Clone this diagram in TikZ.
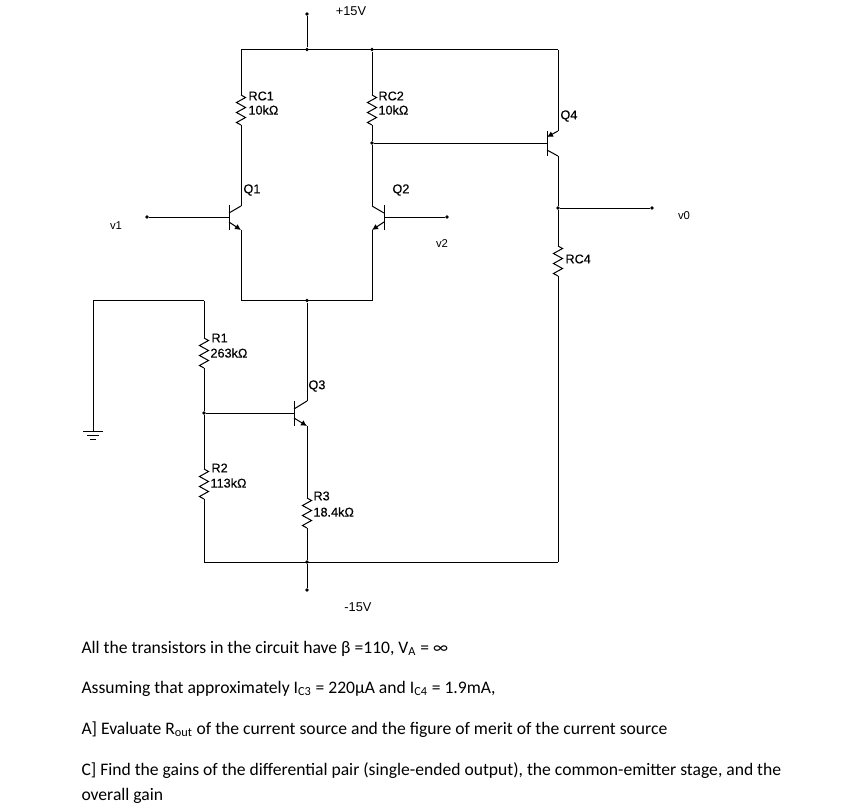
\documentclass[tikz,border=0pt]{standalone}
\usepackage{fontspec}
\setmainfont{Carlito}
\newfontfamily\labelfont[FakeBold=0.3]{Liberation Sans}
\newfontfamily\voltfont{Liberation Sans}
\usetikzlibrary{decorations.pathmorphing,arrows.meta}
\tikzset{
	dot/.style = {circle, fill = black, inner sep = 0, minimum size = 2.8pt},
	res/.style = {decorate, decoration = {zigzag, segment length = 7.5pt, amplitude = 3.4pt}},
	lbl/.style = {anchor = west, inner sep = 0, font = \labelfont\fontsize{9.5}{11}\selectfont},
	volt/.style = {anchor = center, inner sep = 0, font = \voltfont\fontsize{9.6}{11}\selectfont},
	small/.style = {anchor = center, inner sep = 0, font = \voltfont\fontsize{8.5}{10}\selectfont},
	txt/.style = {anchor = base west, inner sep = 0, align = left, font = \fontsize{13.2}{18.75}\selectfont},
	emit/.style = {-{Latex[length = 4.5pt, width = 4.5pt]}}
}
\begin{document}
\begin{tikzpicture}[x = .75pt, y = -.75pt, line width = .75pt]
	\useasboundingbox (0,0) rectangle (865,808);
	
	% supply dots
	\node [dot] (vcc) at (307, 14) {};
	\node [dot] (railm) at (307, 49.5) {};
	\node [dot] (railr) at (372, 49.5) {};
	\node [dot] (nq2) at (372, 143) {};
	\node [dot] (nv1) at (147, 217) {};
	\node [dot] (nv2) at (447, 217) {};
	\node [dot] (nq4) at (558, 208) {};
	\node [dot] (nv0) at (652, 208) {};
	\node [dot] (tail) at (307, 300.5) {};
	\node [dot] (nb3) at (204, 413) {};
	\node [dot] (railb) at (307, 562) {};
	\node [dot] (vee) at (307, 590) {};
	
	% corners and ends
	\coordinate (railtl) at (241, 49.5);
	\coordinate (railtr) at (558, 49.5);
	\coordinate (tailaa) at (241, 300.5);
	\coordinate (tailbb) at (372, 300.5);
	\coordinate (gndtop) at (93, 300.5);
	\coordinate (r1top) at (204, 300.5);
	\coordinate (gnd) at (93, 431);
	\coordinate (railbl) at (204, 562);
	\coordinate (railbr) at (558, 562);
	
	% resistors
	\coordinate (rc1a) at (241, 95);
	\coordinate (rc1b) at (241, 125);
	\coordinate (rc2a) at (372, 95);
	\coordinate (rc2b) at (372, 125);
	\coordinate (rc4a) at (558, 246);
	\coordinate (rc4b) at (558, 276);
	\coordinate (r1a) at (204, 338);
	\coordinate (r1b) at (204, 368);
	\coordinate (r2a) at (204, 469);
	\coordinate (r2b) at (204, 499);
	\coordinate (r3a) at (307, 498);
	\coordinate (r3b) at (307, 528);
	\draw [res] (rc1a) -- (rc1b);
	\draw [res] (rc2a) -- (rc2b);
	\draw [res] (rc4a) -- (rc4b);
	\draw [res] (r1a) -- (r1b);
	\draw [res] (r2a) -- (r2b);
	\draw [res] (r3a) -- (r3b);
	
	% Q1
	\coordinate (q1b) at (229, 217);
	\coordinate (q1t) at (229, 205);
	\coordinate (q1u) at (229, 230);
	\coordinate (q1cc) at (229, 213);
	\coordinate (q1c) at (241, 206);
	\coordinate (q1ee) at (229, 222);
	\coordinate (q1e) at (241, 230);
	\draw (q1t) -- (q1u);
	\draw (nv1) -- (q1b);
	\draw (q1cc) -- (q1c);
	\draw [emit] (q1ee) -- (q1e);
	
	% Q2
	\coordinate (q2b) at (384, 217);
	\coordinate (q2t) at (384, 205);
	\coordinate (q2u) at (384, 230);
	\coordinate (q2cc) at (384, 213);
	\coordinate (q2c) at (372, 206);
	\coordinate (q2ee) at (384, 222);
	\coordinate (q2e) at (372, 230);
	\draw (q2t) -- (q2u);
	\draw (q2b) -- (nv2);
	\draw (q2cc) -- (q2c);
	\draw [emit] (q2ee) -- (q2e);
	
	% Q3
	\coordinate (q3b) at (294, 413);
	\coordinate (q3t) at (294, 401);
	\coordinate (q3u) at (294, 426);
	\coordinate (q3cc) at (294, 409);
	\coordinate (q3c) at (307, 401);
	\coordinate (q3ee) at (294, 418);
	\coordinate (q3e) at (307, 426);
	\draw (q3t) -- (q3u);
	\draw (nb3) -- (q3b);
	\draw (q3cc) -- (q3c);
	\draw [emit] (q3ee) -- (q3e);
	
	% Q4
	\coordinate (q4b) at (547, 143);
	\coordinate (q4t) at (547, 131);
	\coordinate (q4u) at (547, 156);
	\coordinate (q4ee) at (547, 137);
	\coordinate (q4e) at (558, 131);
	\coordinate (q4cc) at (547, 150);
	\coordinate (q4c) at (558, 156);
	\draw (q4t) -- (q4u);
	\draw (nq2) -- (q4b);
	\draw [emit] (q4e) -- (q4ee);
	\draw (q4cc) -- (q4c);
	
	% wires
	\draw (vcc) -- (railm);
	\draw (railtl) -- (railtr);
	\draw (railtl) -- (rc1a);
	\draw (rc1b) -- (q1c);
	\draw (railr) -- (rc2a);
	\draw (rc2b) -- (nq2);
	\draw (nq2) -- (q2c);
	\draw (railtr) -- (q4e);
	\draw (q4c) -- (nq4);
	\draw (nq4) -- (nv0);
	\draw (nq4) -- (rc4a);
	\draw (rc4b) -- (railbr);
	\draw (q1e) -- (tailaa);
	\draw (q2e) -- (tailbb);
	\draw (tailaa) -- (tailbb);
	\draw (tail) -- (q3c);
	\draw (q3e) -- (r3a);
	\draw (r3b) -- (railb);
	\draw (railb) -- (vee);
	\draw (railbl) -- (railbr);
	\draw (gnd) -- (gndtop);
	\draw (gndtop) -- (r1top);
	\draw (r1top) -- (r1a);
	\draw (r1b) -- (nb3);
	\draw (nb3) -- (r2a);
	\draw (r2b) -- (railbl);
	
	% ground
	\coordinate (gndal) at (83, 431);
	\coordinate (gndar) at (103, 431);
	\coordinate (gndbl) at (87, 435);
	\coordinate (gndbr) at (99, 435);
	\coordinate (gndcl) at (90, 439);
	\coordinate (gndcr) at (96, 439);
	\draw (gndal) -- (gndar);
	\draw (gndbl) -- (gndbr);
	\draw (gndcl) -- (gndcr);
	
	% labels
	\node [lbl] (lrc1) at (248, 96) {RC1};
	\node [lbl] (vrc1) at (248, 110) {10kΩ};
	\node [lbl] (lrc2) at (378, 96) {RC2};
	\node [lbl] (vrc2) at (378, 110) {10kΩ};
	\node [lbl] (lrc4) at (565, 259) {RC4};
	\node [lbl] (lr1) at (211, 338) {R1};
	\node [lbl] (vr1) at (210, 353) {263kΩ};
	\node [lbl] (lr2) at (211, 468) {R2};
	\node [lbl] (vr2) at (210, 483) {113kΩ};
	\node [lbl] (lr3) at (313, 496) {R3};
	\node [lbl] (vr3) at (313, 512) {18.4kΩ};
	\node [lbl] (lq1) at (243, 190) {Q1};
	\node [lbl] (lq2) at (392, 190) {Q2};
	\node [lbl] (lq3) at (308, 386) {Q3};
	\node [lbl] (lq4) at (560, 116) {Q4};
	\node [volt] (lvcc) at (351, 11) {+15V};
	\node [volt] (lvee) at (358, 607) {-15V};
	\node [small] (lv1) at (116, 226) {v1};
	\node [small] (lv2) at (442, 244) {v2};
	\node [small] (lv0) at (684, 216) {v0};
	
	% question text
	\node [txt] (ta) at (81, 653) {All the transistors in the circuit have β =110, V\textsubscript{A} = ∞};
	\node [txt] (tb) at (81, 693) {Assuming that approximately I\textsubscript{C3} = 220µA and I\textsubscript{C4} = 1.9mA,};
	\node [txt] (tc) at (81, 734) {A] Evaluate R\textsubscript{out} of the current source and the figure of merit of the current source};
	\node [txt] (td) at (81, 800) {C] Find the gains of the differential pair (single-ended output), the common-emitter stage, and the\\overall gain};
\end{tikzpicture}
\end{document}
